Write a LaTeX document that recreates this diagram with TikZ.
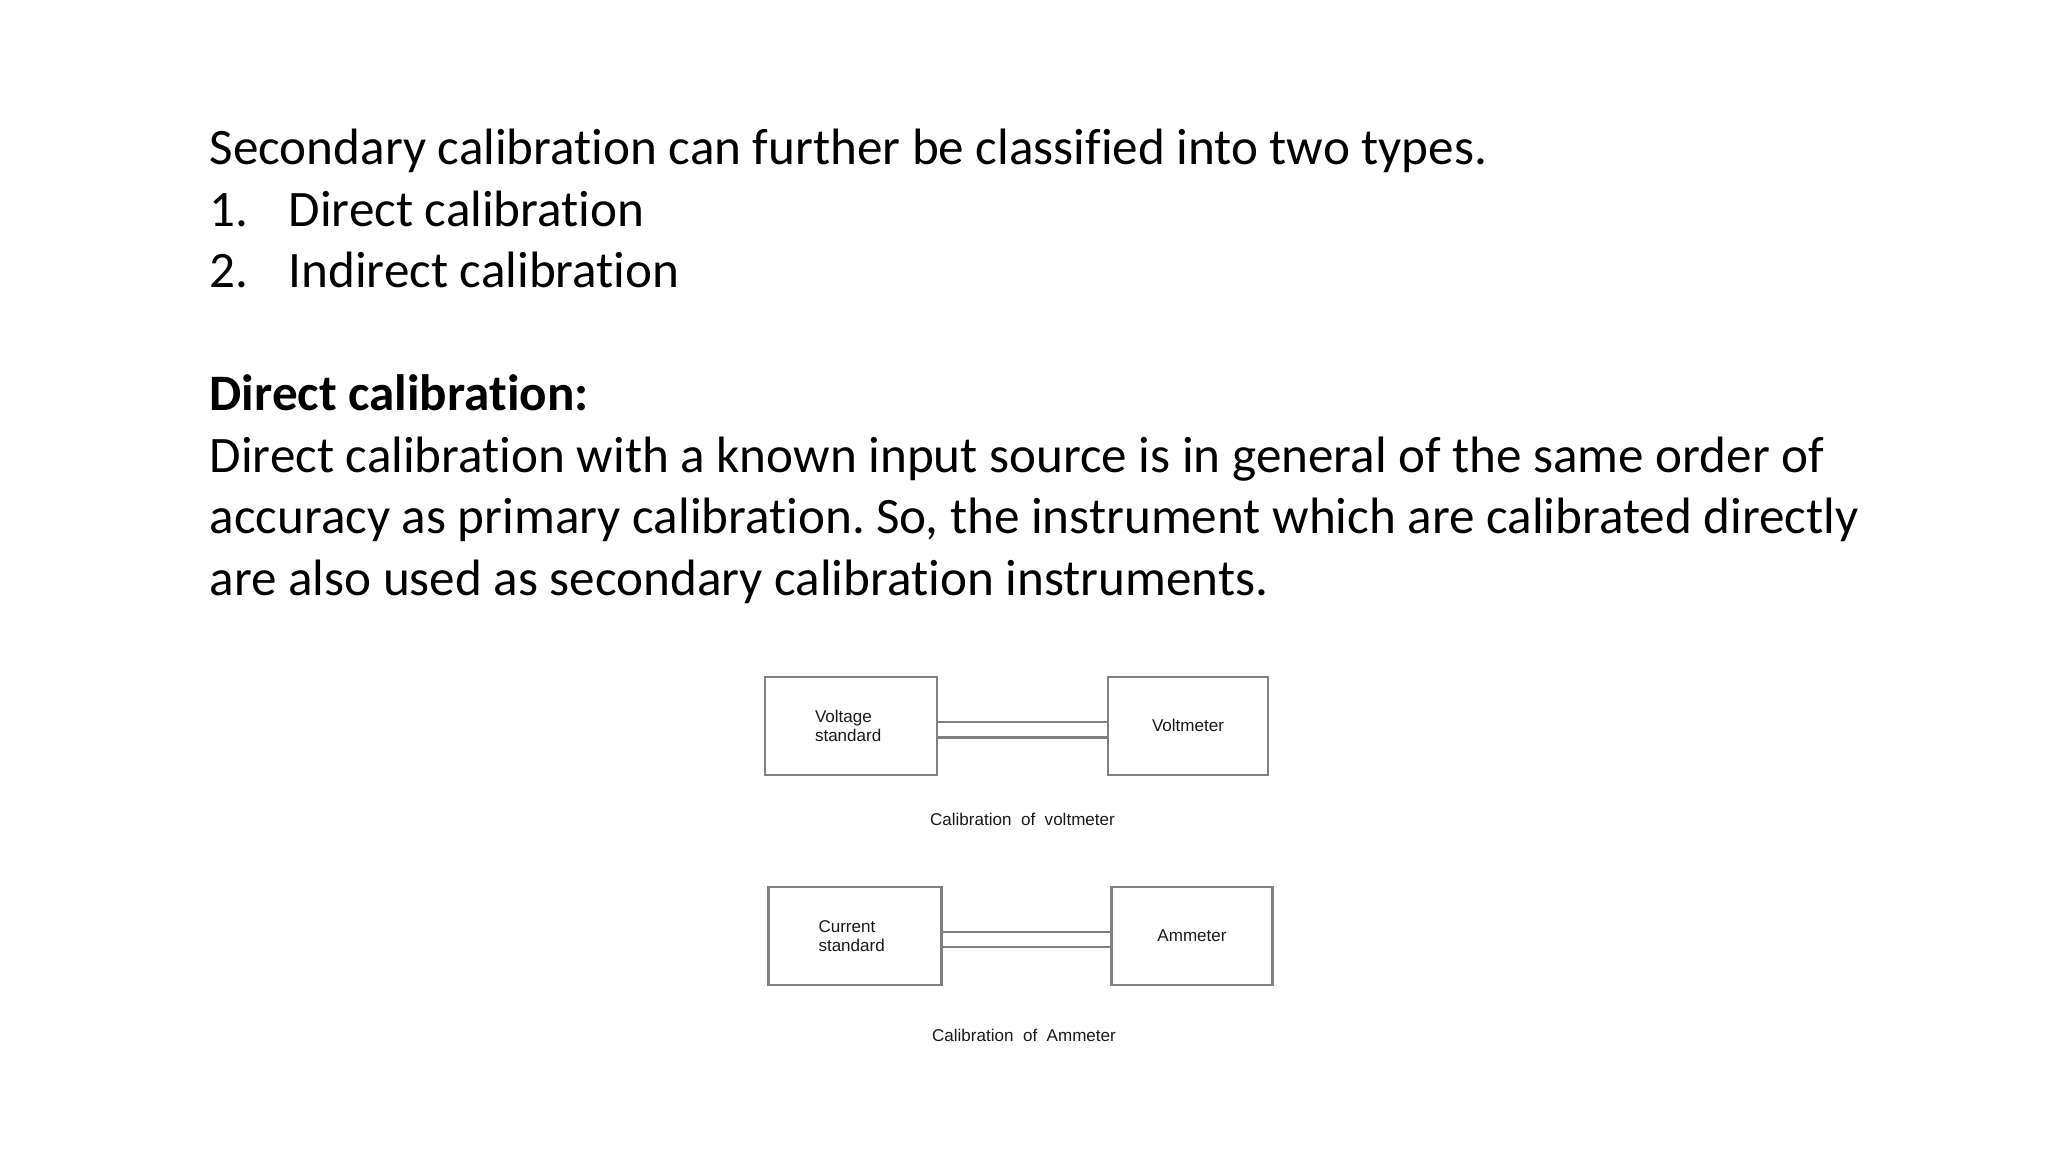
\documentclass[tikz,border=0pt]{standalone}
\usepackage{fontspec}
\setmainfont{Carlito}[Ligatures=NoCommon]
\newfontfamily\diagfont{Liberation Sans}
\frenchspacing
\newcommand{\boxcolor}{black!50}
\newcommand{\inkcolor}{black!90}
\newcommand{\slidefont}{\fontsize{14.55pt}{17.5pt}\selectfont}
\newcommand{\smallfont}{\diagfont\fontsize{4.85pt}{5.3pt}\selectfont}
\begin{document}
\begin{tikzpicture}[x=1cm,y=-1cm,
  textline/.style={inner sep=0pt, anchor=base west, font=\slidefont},
  unit/.style={draw=\boxcolor, line width=0.022cm, inner ysep=0pt, inner xsep=0.5cm,
    minimum height=0.98cm, font=\smallfont, text=\inkcolor},
  wire/.style={draw=\boxcolor, line width=0.02cm},
  caption/.style={inner sep=0pt, font=\smallfont, text=\inkcolor}]

 \useasboundingbox (0,0) rectangle (20.48,11.52);

 % slide text
 \node[textline] (intro) at (2.09,1.65) {Secondary calibration can further be classified into two types.};
 \node[textline] (num1) at (2.09,2.265) {1.};
 \node[textline] (item1) at (2.88,2.265) {Direct calibration};
 \node[textline] (num2) at (2.09,2.88) {2.};
 \node[textline] (item2) at (2.88,2.88) {Indirect calibration};
 \node[textline, font=\slidefont\bfseries] (head) at (2.09,4.11) {Direct calibration:};
 \node[textline] (par1) at (2.09,4.725) {Direct calibration with a known input source is in general of the same order of};
 \node[textline] (par2) at (2.09,5.34) {accuracy as primary calibration. So, the instrument which are calibrated directly};
 \node[textline] (par3) at (2.09,5.955) {are also used as secondary calibration instruments.};

 % voltmeter
 \node[unit, text width=0.72cm, align=left] (vs) at (8.51,7.26) {Voltage\\standard};
 \node[unit, minimum width=1.6cm, inner xsep=0pt] (vm) at (11.88,7.257) {Voltmeter\hspace{0.1cm}};
 \draw[wire] ([yshift=0.04cm]vs.east) -- ([yshift=0.04cm]vs.east -| vm.west);
 \draw[wire] ([yshift=-0.115cm]vs.east) -- ([yshift=-0.115cm]vs.east -| vm.west);
 \node[caption] (cap1) at (10.225,8.19) {Calibration~ of~ voltmeter};

 % ammeter
 \node[unit, text width=0.73cm, align=left] (cs) at (8.55,9.36) {Current\\standard};
 \node[unit, minimum width=1.61cm, inner xsep=0pt] (am) at (11.92,9.357) {Ammeter\hspace{0.05cm}};
 \draw[wire] ([yshift=0.04cm]cs.east) -- ([yshift=0.04cm]cs.east -| am.west);
 \draw[wire] ([yshift=-0.113cm]cs.east) -- ([yshift=-0.113cm]cs.east -| am.west);
 \node[caption] (cap2) at (10.24,10.35) {Calibration~ of~ Ammeter};

\end{tikzpicture}
\end{document}
